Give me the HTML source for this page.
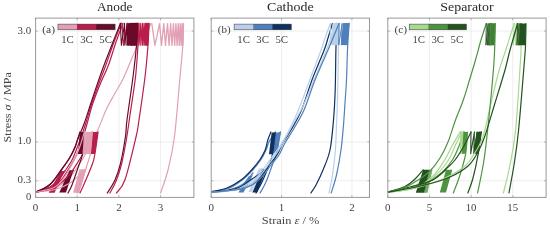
<!DOCTYPE html>
<html><head><meta charset="utf-8"><style>
html,body{margin:0;padding:0;background:#fff;width:550px;height:230px;overflow:hidden}
svg{display:block;will-change:transform}
text{font-family:"Liberation Serif",serif;fill:#444}
.tk{font-size:11px}
.lg{font-size:10.5px}
.tt{font-size:13px;fill:#2a2a2a}
</style></head><body>
<svg width="550" height="230" viewBox="0 0 550 230">
<defs><clipPath id="c0"><rect x="35.6" y="18.1" width="158.3" height="179.30"/></clipPath><clipPath id="c1"><rect x="211.2" y="18.1" width="158.3" height="179.30"/></clipPath><clipPath id="c2"><rect x="387.8" y="18.1" width="158.3" height="179.30"/></clipPath></defs>
<line x1="77.26" y1="18.1" x2="77.26" y2="197.4" stroke="#e8e8e8" stroke-width="0.75"/>
<line x1="118.92" y1="18.1" x2="118.92" y2="197.4" stroke="#e8e8e8" stroke-width="0.75"/>
<line x1="160.57" y1="18.1" x2="160.57" y2="197.4" stroke="#e8e8e8" stroke-width="0.75"/>
<line x1="35.6" y1="180.77" x2="193.90" y2="180.77" stroke="#e8e8e8" stroke-width="0.75"/>
<line x1="35.6" y1="141.95" x2="193.90" y2="141.95" stroke="#e8e8e8" stroke-width="0.75"/>
<line x1="35.6" y1="31.05" x2="193.90" y2="31.05" stroke="#e8e8e8" stroke-width="0.75"/>
<g clip-path="url(#c0)" fill="none" stroke-linejoin="round" stroke-linecap="round">
<path d="M35.60,192.00 C38.83,191.33 49.27,190.50 55.00,188.00 C60.73,185.50 65.50,181.67 70.00,177.00 C74.50,172.33 77.50,167.55 82.00,160.00 C86.50,152.45 93.00,140.03 97.00,131.70 C101.00,123.37 103.17,116.12 106.00,110.00 C108.83,103.88 111.00,100.50 114.00,95.00 C117.00,89.50 120.05,85.33 124.00,77.00 C127.95,68.67 134.03,52.33 137.70,45.00 C141.37,37.67 143.78,36.58 146.00,33.00 C148.22,29.42 150.17,25.08 151.00,23.50" stroke="#e2a0b4" stroke-width="1.2" />
<path d="M151.80,23.6 L154.90,45.4 L159.60,23.6 L161.50,45.4 L163.80,23.6 L165.50,45.4 L167.50,23.6 L169.10,45.4 L170.60,23.6 L172.00,45.4 L173.40,23.6 L174.70,45.4 L175.90,23.6 L177.10,45.4 L178.20,23.6 L179.30,45.4 L180.20,23.6 L181.20,45.4 L182.00,23.6 L182.80,45.4 L183.50,23.6" stroke="#e2a0b4" stroke-width="1.3" />
<path d="M183.50,23.50 C183.38,27.17 183.38,36.58 182.80,45.50 C182.22,54.42 181.40,61.75 180.00,77.00 C178.60,92.25 176.40,121.50 174.40,137.00 C172.40,152.50 170.30,160.67 168.00,170.00 C165.70,179.33 161.83,189.17 160.60,193.00" stroke="#e2a0b4" stroke-width="1.2" />
<path d="M35.60,192.20 C37.00,191.75 41.60,190.37 44.00,189.50 C46.40,188.63 48.33,187.92 50.00,187.00 C51.67,186.08 52.33,185.50 54.00,184.00 C55.67,182.50 58.17,180.17 60.00,178.00 C61.83,175.83 63.00,174.00 65.00,171.00 C67.00,168.00 70.00,163.83 72.00,160.00 C74.00,156.17 75.58,151.50 77.00,148.00 C78.42,144.50 79.08,143.00 80.50,139.00 C81.92,135.00 83.70,129.67 85.50,124.00 C87.30,118.33 89.17,111.50 91.30,105.00 C93.43,98.50 95.87,91.67 98.30,85.00 C100.73,78.33 103.28,72.17 105.90,65.00 C108.52,57.83 111.43,48.95 114.00,42.00 C116.57,35.05 120.08,26.42 121.30,23.30" stroke="#b91d4a" stroke-width="1.2" />
<path d="M35.60,192.40 C38.00,191.75 46.60,189.73 50.00,188.50 C53.40,187.27 54.00,186.58 56.00,185.00 C58.00,183.42 60.00,181.50 62.00,179.00 C64.00,176.50 66.00,173.17 68.00,170.00 C70.00,166.83 72.17,163.50 74.00,160.00 C75.83,156.50 77.58,152.50 79.00,149.00 C80.42,145.50 81.17,143.17 82.50,139.00 C83.83,134.83 85.37,129.67 87.00,124.00 C88.63,118.33 90.17,111.50 92.30,105.00 C94.43,98.50 97.10,91.67 99.80,85.00 C102.50,78.33 105.80,72.17 108.50,65.00 C111.20,57.83 113.58,48.95 116.00,42.00 C118.42,35.05 121.83,26.42 123.00,23.30" stroke="#b91d4a" stroke-width="1.2" />
<path d="M122.00,23.30 L123.53,45.30 L127.17,23.30 L128.11,45.30 L131.03,23.30 L131.62,45.30 L134.11,23.30 L134.47,45.30 L136.68,23.30 L136.87,45.30 L138.87,23.30 L138.94,45.30 L140.80,23.30 L140.77,45.30 L142.51,23.30 L142.40,45.30 L144.04,23.30 L143.87,45.30 L145.44,23.30 L145.22,45.30 L146.72,23.30 L146.45,45.30 L147.90,23.30 L147.60,45.30 L149.00,23.30" stroke="#b91d4a" stroke-width="1.1" />
<polygon points="145.50,23.30 149.00,23.30 148.00,45.30 144.50,45.30" fill="#b91d4a" stroke="none" opacity="1.0"/>
<path d="M149.00,23.30 C148.83,26.97 148.67,36.35 148.00,45.30 C147.33,54.25 146.50,64.55 145.00,77.00 C143.50,89.45 140.50,110.00 139.00,120.00 C137.50,130.00 138.33,127.03 136.00,137.00 C133.67,146.97 128.27,170.47 125.00,179.80 C121.73,189.13 117.83,190.80 116.40,193.00" stroke="#b91d4a" stroke-width="1.2" />
<path d="M139.00,23.30 C138.83,26.92 138.58,36.05 138.00,45.00 C137.42,53.95 136.83,65.33 135.50,77.00 C134.17,88.67 131.45,105.00 130.00,115.00 C128.55,125.00 128.17,129.00 126.80,137.00 C125.43,145.00 123.52,155.83 121.80,163.00 C120.08,170.17 118.47,175.00 116.50,180.00 C114.53,185.00 111.08,190.83 110.00,193.00" stroke="#b91d4a" stroke-width="1.2" />
<path d="M35.60,192.00 C37.00,191.40 41.60,189.68 44.00,188.40 C46.40,187.12 48.17,185.95 50.00,184.30 C51.83,182.65 53.33,180.63 55.00,178.50 C56.67,176.37 58.33,173.82 60.00,171.50 C61.67,169.18 63.33,167.02 65.00,164.60 C66.67,162.18 68.33,159.93 70.00,157.00 C71.67,154.07 73.67,150.08 75.00,147.00 C76.33,143.92 76.50,142.33 78.00,138.50 C79.50,134.67 81.95,129.58 84.00,124.00 C86.05,118.42 88.13,111.50 90.30,105.00 C92.47,98.50 94.70,91.67 97.00,85.00 C99.30,78.33 101.43,72.17 104.10,65.00 C106.77,57.83 110.27,48.95 113.00,42.00 C115.73,35.05 119.25,26.42 120.50,23.30" stroke="#6a0a2a" stroke-width="1.2" />
<path d="M120.30,23.30 L121.40,45.30 L124.53,23.30 L124.88,45.30 L127.09,23.30 L127.11,45.30 L128.92,23.30 L128.77,45.30 L130.36,23.30 L130.09,45.30 L131.53,23.30 L131.18,45.30 L132.53,23.30 L132.12,45.30 L133.40,23.30 L132.94,45.30 L134.17,23.30 L133.67,45.30 L134.85,23.30 L134.33,45.30 L135.47,23.30 L134.93,45.30 L136.04,23.30 L135.48,45.30 L136.56,23.30 L135.98,45.30 L137.05,23.30 L136.45,45.30 L137.50,23.30" stroke="#6a0a2a" stroke-width="1.1" />
<polygon points="127.50,23.30 135.00,23.30 134.00,45.30 126.50,45.30" fill="#6a0a2a" stroke="none" opacity="1.0"/>
<path d="M137.50,23.30 C137.33,26.97 137.25,36.35 136.50,45.30 C135.75,54.25 134.58,64.55 133.00,77.00 C131.42,89.45 128.27,110.00 127.00,120.00 C125.73,130.00 126.48,129.78 125.40,137.00 C124.32,144.22 122.23,156.13 120.50,163.30 C118.77,170.47 117.20,175.05 115.00,180.00 C112.80,184.95 108.58,190.83 107.30,193.00" stroke="#6a0a2a" stroke-width="1.2" />
<path d="M35.60,192.20 C37.67,191.58 44.60,190.03 48.00,188.50 C51.40,186.97 53.83,185.08 56.00,183.00 C58.17,180.92 59.58,178.00 61.00,176.00 C62.42,174.00 63.92,171.83 64.50,171.00" stroke="#b91d4a" stroke-width="1.2" />
<polygon points="48.70,192.80 54.60,192.80 64.50,171.00 60.50,171.00" fill="#b91d4a" stroke="none" opacity="1.0"/>
<path d="M35.60,192.10 C38.33,191.50 47.43,190.35 52.00,188.50 C56.57,186.65 59.42,184.03 63.00,181.00 C66.58,177.97 71.75,172.08 73.50,170.30" stroke="#6a0a2a" stroke-width="1.2" />
<polygon points="59.30,192.50 66.00,192.50 73.50,170.30 69.50,170.30" fill="#6a0a2a" stroke="none" opacity="1.0"/>
<path d="M35.60,192.20 C38.83,191.75 49.27,191.03 55.00,189.50 C60.73,187.97 64.93,186.32 70.00,183.00 C75.07,179.68 82.83,171.83 85.40,169.60" stroke="#e2a0b4" stroke-width="1.2" />
<polygon points="73.00,192.50 79.20,192.50 82.00,182.00 85.40,169.60 79.90,169.60 76.00,182.00" fill="#e2a0b4" stroke="none" opacity="0.85"/>
<path d="M79.90,169.60 L74.40,192.50 L81.91,169.60 L76.04,192.50 L83.17,169.60 L77.12,192.50 L84.08,169.60 L77.94,192.50 L84.80,169.60 L78.60,192.50 L85.40,169.60" stroke="#e2a0b4" stroke-width="1.0" />
<path d="M35.60,192.30 C38.33,191.67 47.60,190.22 52.00,188.50 C56.40,186.78 59.00,184.42 62.00,182.00 C65.00,179.58 67.33,177.33 70.00,174.00 C72.67,170.67 75.50,166.00 78.00,162.00 C80.50,158.00 82.62,155.02 85.00,150.00 C87.38,144.98 91.08,134.92 92.30,131.90" stroke="#b91d4a" stroke-width="1.2" />
<polygon points="92.30,131.90 98.10,131.90 94.90,154.00 90.30,154.00" fill="#b91d4a" stroke="none" opacity="1.0"/>
<path d="M98.10,131.90 C97.57,135.58 95.85,148.65 94.90,154.00 C93.95,159.35 94.05,159.33 92.40,164.00 C90.75,168.67 87.07,177.17 85.00,182.00 C82.93,186.83 80.83,191.17 80.00,193.00" stroke="#b91d4a" stroke-width="1.2" />
<path d="M35.60,192.00 C37.00,191.43 41.60,189.80 44.00,188.60 C46.40,187.40 48.17,186.40 50.00,184.80 C51.83,183.20 53.33,181.13 55.00,179.00 C56.67,176.87 58.33,174.33 60.00,172.00 C61.67,169.67 63.33,167.42 65.00,165.00 C66.67,162.58 68.33,160.42 70.00,157.50 C71.67,154.58 73.35,151.77 75.00,147.50 C76.65,143.23 79.08,134.50 79.90,131.90" stroke="#6a0a2a" stroke-width="1.2" />
<polygon points="79.90,131.90 84.40,131.90 82.50,154.00 77.90,154.00" fill="#6a0a2a" stroke="none" opacity="1.0"/>
<path d="M84.40,131.90 C84.08,135.58 83.47,148.32 82.50,154.00 C81.53,159.68 80.35,160.83 78.60,166.00 C76.85,171.17 73.77,180.50 72.00,185.00 C70.23,189.50 68.67,191.67 68.00,193.00" stroke="#6a0a2a" stroke-width="1.2" />
<path d="M35.60,192.30 C38.50,191.58 48.93,189.55 53.00,188.00 C57.07,186.45 57.83,185.17 60.00,183.00 C62.17,180.83 63.83,178.50 66.00,175.00 C68.17,171.50 70.78,166.50 73.00,162.00 C75.22,157.50 77.40,153.02 79.30,148.00 C81.20,142.98 83.55,134.58 84.40,131.90" stroke="#e2a0b4" stroke-width="1.2" />
<polygon points="84.40,131.90 92.30,131.90 90.30,154.00 82.50,154.00" fill="#e2a0b4" stroke="none" opacity="0.9"/>
<path d="M84.40,131.90 L83.84,154.00 L87.29,131.90 L86.19,154.00 L89.09,131.90 L87.75,154.00 L90.41,131.90 L88.93,154.00 L91.44,131.90 L89.87,154.00 L92.30,131.90" stroke="#e2a0b4" stroke-width="0.9" />
<path d="M92.30,131.90 C91.97,135.58 91.18,148.48 90.30,154.00 C89.42,159.52 88.55,159.83 87.00,165.00 C85.45,170.17 82.67,180.33 81.00,185.00 C79.33,189.67 77.67,191.67 77.00,193.00" stroke="#e2a0b4" stroke-width="1.2" />
</g>
<rect x="35.6" y="18.1" width="158.3" height="179.30" fill="none" stroke="#9a9a9a" stroke-width="1"/>
<line x1="35.60" y1="197.4" x2="35.60" y2="195.4" stroke="#9a9a9a" stroke-width="0.8"/>
<line x1="35.60" y1="18.1" x2="35.60" y2="20.1" stroke="#9a9a9a" stroke-width="0.8"/>
<text x="35.60" y="211.2" text-anchor="middle" class="tk">0</text>
<line x1="77.26" y1="197.4" x2="77.26" y2="195.4" stroke="#9a9a9a" stroke-width="0.8"/>
<line x1="77.26" y1="18.1" x2="77.26" y2="20.1" stroke="#9a9a9a" stroke-width="0.8"/>
<text x="77.26" y="211.2" text-anchor="middle" class="tk">1</text>
<line x1="118.92" y1="197.4" x2="118.92" y2="195.4" stroke="#9a9a9a" stroke-width="0.8"/>
<line x1="118.92" y1="18.1" x2="118.92" y2="20.1" stroke="#9a9a9a" stroke-width="0.8"/>
<text x="118.92" y="211.2" text-anchor="middle" class="tk">2</text>
<line x1="160.57" y1="197.4" x2="160.57" y2="195.4" stroke="#9a9a9a" stroke-width="0.8"/>
<line x1="160.57" y1="18.1" x2="160.57" y2="20.1" stroke="#9a9a9a" stroke-width="0.8"/>
<text x="160.57" y="211.2" text-anchor="middle" class="tk">3</text>
<line x1="35.6" y1="197.40" x2="37.6" y2="197.40" stroke="#9a9a9a" stroke-width="0.8"/>
<line x1="193.90" y1="197.40" x2="191.90" y2="197.40" stroke="#9a9a9a" stroke-width="0.8"/>
<line x1="35.6" y1="180.77" x2="37.6" y2="180.77" stroke="#9a9a9a" stroke-width="0.8"/>
<line x1="193.90" y1="180.77" x2="191.90" y2="180.77" stroke="#9a9a9a" stroke-width="0.8"/>
<line x1="35.6" y1="141.95" x2="37.6" y2="141.95" stroke="#9a9a9a" stroke-width="0.8"/>
<line x1="193.90" y1="141.95" x2="191.90" y2="141.95" stroke="#9a9a9a" stroke-width="0.8"/>
<line x1="35.6" y1="31.05" x2="37.6" y2="31.05" stroke="#9a9a9a" stroke-width="0.8"/>
<line x1="193.90" y1="31.05" x2="191.90" y2="31.05" stroke="#9a9a9a" stroke-width="0.8"/>
<rect x="57.95" y="24.1" width="19.05" height="5.7" fill="#e2a0b4"/>
<rect x="77.00" y="24.1" width="19.05" height="5.7" fill="#b91d4a"/>
<rect x="96.05" y="24.1" width="19.05" height="5.7" fill="#6a0a2a"/>
<rect x="57.95" y="24.1" width="57.15" height="5.7" fill="none" stroke="#333" stroke-width="0.5"/>
<text x="61.18" y="42.8" class="lg" textLength="12.6" lengthAdjust="spacingAndGlyphs">1C</text>
<text x="80.23" y="42.8" class="lg" textLength="12.6" lengthAdjust="spacingAndGlyphs">3C</text>
<text x="99.28" y="42.8" class="lg" textLength="12.6" lengthAdjust="spacingAndGlyphs">5C</text>
<text x="42.20" y="32.9" class="lg" textLength="12.8" lengthAdjust="spacingAndGlyphs">(a)</text>
<text x="97.00" y="10.8" class="tt" textLength="35.5" lengthAdjust="spacingAndGlyphs">Anode</text>
<line x1="281.56" y1="18.1" x2="281.56" y2="197.4" stroke="#e8e8e8" stroke-width="0.75"/>
<line x1="351.91" y1="18.1" x2="351.91" y2="197.4" stroke="#e8e8e8" stroke-width="0.75"/>
<line x1="211.2" y1="180.77" x2="369.50" y2="180.77" stroke="#e8e8e8" stroke-width="0.75"/>
<line x1="211.2" y1="141.95" x2="369.50" y2="141.95" stroke="#e8e8e8" stroke-width="0.75"/>
<line x1="211.2" y1="31.05" x2="369.50" y2="31.05" stroke="#e8e8e8" stroke-width="0.75"/>
<g clip-path="url(#c1)" fill="none" stroke-linejoin="round" stroke-linecap="round">
<path d="M211.20,192.30 C214.33,191.83 224.70,190.88 230.00,189.50 C235.30,188.12 239.17,186.75 243.00,184.00 C246.83,181.25 251.33,174.83 253.00,173.00" stroke="#4f80bb" stroke-width="1.2" />
<polygon points="238.30,192.50 243.50,192.50 253.00,175.00 248.50,176.50" fill="#4f80bb" stroke="none" opacity="1.0"/>
<path d="M211.20,192.30 C215.00,191.83 227.53,191.22 234.00,189.50 C240.47,187.78 245.33,185.50 250.00,182.00 C254.67,178.50 260.00,170.75 262.00,168.50" stroke="#b9d0e8" stroke-width="1.2" />
<polygon points="248.50,192.00 252.00,192.00 262.00,168.50 259.00,168.50" fill="#b9d0e8" stroke="none" opacity="0.9"/>
<path d="M211.20,192.00 C215.33,191.42 229.20,190.67 236.00,188.50 C242.80,186.33 246.93,182.25 252.00,179.00 C257.07,175.75 264.00,170.67 266.40,169.00" stroke="#10305e" stroke-width="1.2" />
<polygon points="252.40,192.50 257.30,192.50 266.40,169.00 262.30,169.00" fill="#10305e" stroke="none" opacity="1.0"/>
<path d="M211.20,192.00 C214.17,191.42 223.78,190.50 229.00,188.50 C234.22,186.50 238.50,183.08 242.50,180.00 C246.50,176.92 249.92,173.33 253.00,170.00 C256.08,166.67 258.83,163.33 261.00,160.00 C263.17,156.67 264.50,153.33 266.00,150.00 C267.50,146.67 268.47,143.00 270.00,140.00 C271.53,137.00 274.33,133.33 275.20,132.00" stroke="#b9d0e8" stroke-width="1.2" />
<path d="M211.20,192.20 C214.00,191.58 222.87,190.53 228.00,188.50 C233.13,186.47 237.92,183.08 242.00,180.00 C246.08,176.92 249.42,173.33 252.50,170.00 C255.58,166.67 258.25,163.33 260.50,160.00 C262.75,156.67 264.42,153.33 266.00,150.00 C267.58,146.67 267.60,143.00 270.00,140.00 C272.40,137.00 278.67,133.33 280.40,132.00" stroke="#4f80bb" stroke-width="1.2" />
<polygon points="275.60,132.40 280.80,132.40 276.80,152.00 272.50,154.00" fill="#4f80bb" stroke="none" opacity="1.0"/>
<path d="M280.40,132.00 C279.83,135.33 278.23,146.83 277.00,152.00 C275.77,157.17 274.83,158.00 273.00,163.00 C271.17,168.00 268.17,177.00 266.00,182.00 C263.83,187.00 261.00,191.17 260.00,193.00" stroke="#4f80bb" stroke-width="1.2" />
<path d="M211.20,191.80 C213.83,191.17 221.92,190.05 227.00,188.00 C232.08,185.95 237.53,182.58 241.70,179.50 C245.87,176.42 248.95,172.83 252.00,169.50 C255.05,166.17 257.80,162.75 260.00,159.50 C262.20,156.25 263.90,153.25 265.20,150.00 C266.50,146.75 266.85,143.00 267.80,140.00 C268.75,137.00 270.38,133.33 270.90,132.00" stroke="#10305e" stroke-width="1.2" />
<polygon points="271.60,132.40 275.60,132.40 272.50,154.20 269.00,154.20" fill="#10305e" stroke="none" opacity="1.0"/>
<path d="M275.20,132.00 C274.77,135.62 273.63,148.20 272.60,153.70 C271.57,159.20 270.77,160.28 269.00,165.00 C267.23,169.72 264.17,177.33 262.00,182.00 C259.83,186.67 257.00,191.17 256.00,193.00" stroke="#10305e" stroke-width="1.2" />
<path d="M211.20,192.60 C215.33,192.13 229.53,191.23 236.00,189.80 C242.47,188.37 246.33,186.30 250.00,184.00 C253.67,181.70 255.67,178.67 258.00,176.00 C260.33,173.33 261.67,171.17 264.00,168.00 C266.33,164.83 269.33,160.67 272.00,157.00 C274.67,153.33 277.50,149.83 280.00,146.00 C282.50,142.17 284.67,138.33 287.00,134.00 C289.33,129.67 291.83,124.67 294.00,120.00 C296.17,115.33 297.50,112.33 300.00,106.00 C302.50,99.67 305.48,91.33 309.00,82.00 C312.52,72.67 318.43,57.33 321.10,50.00 C323.77,42.67 323.47,42.42 325.00,38.00 C326.53,33.58 329.42,25.92 330.30,23.50" stroke="#b9d0e8" stroke-width="1.2" />
<path d="M211.20,192.00 C215.50,191.58 230.37,190.67 237.00,189.50 C243.63,188.33 247.17,187.08 251.00,185.00 C254.83,182.92 257.00,180.33 260.00,177.00 C263.00,173.67 266.17,168.67 269.00,165.00 C271.83,161.33 274.67,158.67 277.00,155.00 C279.33,151.33 280.67,147.17 283.00,143.00 C285.33,138.83 287.92,135.50 291.00,130.00 C294.08,124.50 298.00,118.33 301.50,110.00 C305.00,101.67 308.22,90.00 312.00,80.00 C315.78,70.00 321.53,57.00 324.20,50.00 C326.87,43.00 326.63,42.42 328.00,38.00 C329.37,33.58 331.67,25.92 332.40,23.50" stroke="#10305e" stroke-width="1.2" />
<path d="M336.70,23.30 C336.57,27.75 336.15,38.88 335.90,50.00 C335.65,61.12 335.60,78.33 335.20,90.00 C334.80,101.67 334.37,110.00 333.50,120.00 C332.63,130.00 331.75,141.67 330.00,150.00 C328.25,158.33 325.33,164.17 323.00,170.00 C320.67,175.83 318.02,181.17 316.00,185.00 C313.98,188.83 311.75,191.67 310.90,193.00" stroke="#10305e" stroke-width="1.2" />
<polygon points="333.00,23.30 339.40,23.30 338.00,45.10 331.00,45.10" fill="#b9d0e8" stroke="none" opacity="1.0"/>
<path d="M330.30,23.30 L330.32,45.10 L333.34,23.30 L332.79,45.10 L335.25,23.30 L334.44,45.10 L336.64,23.30 L335.68,45.10 L337.73,23.30 L336.68,45.10 L338.63,23.30 L337.52,45.10 L339.40,23.30" stroke="#b9d0e8" stroke-width="1.0" />
<path d="M339.40,23.30 C339.25,26.92 338.73,36.05 338.50,45.00 C338.27,53.95 338.17,67.83 338.00,77.00 C337.83,86.17 337.75,92.00 337.50,100.00 C337.25,108.00 336.85,116.67 336.50,125.00 C336.15,133.33 336.07,141.67 335.40,150.00 C334.73,158.33 333.57,167.83 332.50,175.00 C331.43,182.17 329.58,190.00 329.00,193.00" stroke="#b9d0e8" stroke-width="1.2" />
<path d="M211.20,192.30 C215.67,191.83 231.20,190.88 238.00,189.50 C244.80,188.12 248.33,186.25 252.00,184.00 C255.67,181.75 257.67,178.67 260.00,176.00 C262.33,173.33 263.83,171.00 266.00,168.00 C268.17,165.00 270.67,161.33 273.00,158.00 C275.33,154.67 277.83,151.50 280.00,148.00 C282.17,144.50 284.00,140.67 286.00,137.00 C288.00,133.33 289.17,131.17 292.00,126.00 C294.83,120.83 299.33,113.67 303.00,106.00 C306.67,98.33 310.08,89.33 314.00,80.00 C317.92,70.67 323.67,57.00 326.50,50.00 C329.33,43.00 329.42,42.42 331.00,38.00 C332.58,33.58 335.17,25.92 336.00,23.50" stroke="#b9d0e8" stroke-width="1.2" />
<path d="M211.20,192.30 C215.67,191.83 231.20,190.72 238.00,189.50 C244.80,188.28 247.90,187.25 252.00,185.00 C256.10,182.75 259.43,179.33 262.60,176.00 C265.77,172.67 268.27,168.50 271.00,165.00 C273.73,161.50 276.67,158.67 279.00,155.00 C281.33,151.33 282.67,147.17 285.00,143.00 C287.33,138.83 289.83,135.50 293.00,130.00 C296.17,124.50 300.33,118.33 304.00,110.00 C307.67,101.67 311.00,90.00 315.00,80.00 C319.00,70.00 325.00,57.00 328.00,50.00 C331.00,43.00 331.17,42.42 333.00,38.00 C334.83,33.58 338.00,25.92 339.00,23.50" stroke="#4f80bb" stroke-width="1.2" />
<polygon points="343.00,23.30 349.10,23.30 347.00,45.10 341.00,45.10" fill="#4f80bb" stroke="none" opacity="1.0"/>
<path d="M339.00,23.30 L338.77,45.10 L342.15,23.30 L341.33,45.10 L344.11,23.30 L343.03,45.10 L345.55,23.30 L344.32,45.10 L346.68,23.30 L345.35,45.10 L347.61,23.30 L346.21,45.10 L348.41,23.30 L346.95,45.10 L349.10,23.30" stroke="#4f80bb" stroke-width="1.0" />
<path d="M349.10,23.30 C348.83,27.75 347.93,40.55 347.50,50.00 C347.07,59.45 346.88,71.67 346.50,80.00 C346.12,88.33 345.70,92.50 345.20,100.00 C344.70,107.50 344.20,116.67 343.50,125.00 C342.80,133.33 342.17,141.67 341.00,150.00 C339.83,158.33 338.13,167.83 336.50,175.00 C334.87,182.17 332.08,190.00 331.20,193.00" stroke="#4f80bb" stroke-width="1.2" />
</g>
<rect x="211.2" y="18.1" width="158.3" height="179.30" fill="none" stroke="#9a9a9a" stroke-width="1"/>
<line x1="211.20" y1="197.4" x2="211.20" y2="195.4" stroke="#9a9a9a" stroke-width="0.8"/>
<line x1="211.20" y1="18.1" x2="211.20" y2="20.1" stroke="#9a9a9a" stroke-width="0.8"/>
<text x="211.20" y="211.2" text-anchor="middle" class="tk">0</text>
<line x1="281.56" y1="197.4" x2="281.56" y2="195.4" stroke="#9a9a9a" stroke-width="0.8"/>
<line x1="281.56" y1="18.1" x2="281.56" y2="20.1" stroke="#9a9a9a" stroke-width="0.8"/>
<text x="281.56" y="211.2" text-anchor="middle" class="tk">1</text>
<line x1="351.91" y1="197.4" x2="351.91" y2="195.4" stroke="#9a9a9a" stroke-width="0.8"/>
<line x1="351.91" y1="18.1" x2="351.91" y2="20.1" stroke="#9a9a9a" stroke-width="0.8"/>
<text x="351.91" y="211.2" text-anchor="middle" class="tk">2</text>
<line x1="211.2" y1="197.40" x2="213.2" y2="197.40" stroke="#9a9a9a" stroke-width="0.8"/>
<line x1="369.50" y1="197.40" x2="367.50" y2="197.40" stroke="#9a9a9a" stroke-width="0.8"/>
<line x1="211.2" y1="180.77" x2="213.2" y2="180.77" stroke="#9a9a9a" stroke-width="0.8"/>
<line x1="369.50" y1="180.77" x2="367.50" y2="180.77" stroke="#9a9a9a" stroke-width="0.8"/>
<line x1="211.2" y1="141.95" x2="213.2" y2="141.95" stroke="#9a9a9a" stroke-width="0.8"/>
<line x1="369.50" y1="141.95" x2="367.50" y2="141.95" stroke="#9a9a9a" stroke-width="0.8"/>
<line x1="211.2" y1="31.05" x2="213.2" y2="31.05" stroke="#9a9a9a" stroke-width="0.8"/>
<line x1="369.50" y1="31.05" x2="367.50" y2="31.05" stroke="#9a9a9a" stroke-width="0.8"/>
<rect x="234.10" y="24.1" width="19.05" height="5.7" fill="#b9d0e8"/>
<rect x="253.15" y="24.1" width="19.05" height="5.7" fill="#4f80bb"/>
<rect x="272.20" y="24.1" width="19.05" height="5.7" fill="#10305e"/>
<rect x="234.10" y="24.1" width="57.15" height="5.7" fill="none" stroke="#333" stroke-width="0.5"/>
<text x="237.32" y="42.8" class="lg" textLength="12.6" lengthAdjust="spacingAndGlyphs">1C</text>
<text x="256.38" y="42.8" class="lg" textLength="12.6" lengthAdjust="spacingAndGlyphs">3C</text>
<text x="275.43" y="42.8" class="lg" textLength="12.6" lengthAdjust="spacingAndGlyphs">5C</text>
<text x="217.80" y="32.9" class="lg" textLength="12.8" lengthAdjust="spacingAndGlyphs">(b)</text>
<text x="267.10" y="10.8" class="tt" textLength="46.5" lengthAdjust="spacingAndGlyphs">Cathode</text>
<line x1="429.46" y1="18.1" x2="429.46" y2="197.4" stroke="#e8e8e8" stroke-width="0.75"/>
<line x1="471.12" y1="18.1" x2="471.12" y2="197.4" stroke="#e8e8e8" stroke-width="0.75"/>
<line x1="512.77" y1="18.1" x2="512.77" y2="197.4" stroke="#e8e8e8" stroke-width="0.75"/>
<line x1="387.8" y1="180.77" x2="546.10" y2="180.77" stroke="#e8e8e8" stroke-width="0.75"/>
<line x1="387.8" y1="141.95" x2="546.10" y2="141.95" stroke="#e8e8e8" stroke-width="0.75"/>
<line x1="387.8" y1="31.05" x2="546.10" y2="31.05" stroke="#e8e8e8" stroke-width="0.75"/>
<g clip-path="url(#c2)" fill="none" stroke-linejoin="round" stroke-linecap="round">
<path d="M387.80,192.20 C391.50,191.67 402.63,191.03 410.00,189.00 C417.37,186.97 426.00,183.17 432.00,180.00 C438.00,176.83 443.67,171.67 446.00,170.00" stroke="#4d9340" stroke-width="1.2" />
<polygon points="439.80,192.50 446.00,192.50 452.30,169.80 446.00,169.80" fill="#4d9340" stroke="none" opacity="1.0"/>
<path d="M387.80,192.30 C391.17,191.83 402.97,190.88 408.00,189.50 C413.03,188.12 414.45,187.17 418.00,184.00 C421.55,180.83 427.42,172.75 429.30,170.50" stroke="#a8d98f" stroke-width="1.2" />
<polygon points="424.00,192.70 427.50,192.70 432.50,169.80 429.00,169.80" fill="#4d9340" stroke="none" opacity="0.8"/>
<path d="M387.80,192.00 C390.67,191.08 400.47,188.67 405.00,186.50 C409.53,184.33 411.98,181.78 415.00,179.00 C418.02,176.22 421.75,171.33 423.10,169.80" stroke="#23511f" stroke-width="1.2" />
<polygon points="415.80,192.70 424.20,192.70 429.40,169.80 423.10,169.80" fill="#23511f" stroke="none" opacity="1.0"/>
<path d="M387.80,192.30 C392.33,191.58 407.47,190.72 415.00,188.00 C422.53,185.28 428.07,180.67 433.00,176.00 C437.93,171.33 441.43,165.00 444.60,160.00 C447.77,155.00 449.37,150.75 452.00,146.00 C454.63,141.25 459.00,133.92 460.40,131.50" stroke="#a8d98f" stroke-width="1.2" />
<path d="M387.80,192.20 C392.83,191.33 409.97,189.87 418.00,187.00 C426.03,184.13 430.92,179.50 436.00,175.00 C441.08,170.50 445.33,164.83 448.50,160.00 C451.67,155.17 452.75,150.75 455.00,146.00 C457.25,141.25 460.83,133.92 462.00,131.50" stroke="#a8d98f" stroke-width="1.2" />
<path d="M387.80,192.00 C393.17,191.00 411.30,189.00 420.00,186.00 C428.70,183.00 434.60,178.33 440.00,174.00 C445.40,169.67 449.23,164.67 452.40,160.00 C455.57,155.33 457.07,150.75 459.00,146.00 C460.93,141.25 463.17,133.92 464.00,131.50" stroke="#4d9340" stroke-width="1.2" />
<path d="M460.40,132.00 L460.40,153.70 L461.99,132.00 L461.76,153.70 L463.12,132.00 L462.76,153.70 L464.00,132.00" stroke="#a8d98f" stroke-width="1.0" />
<polygon points="463.50,132.00 467.40,132.00 465.70,153.70 462.00,153.70" fill="#4d9340" stroke="none" opacity="1.0"/>
<path d="M467.40,132.00 C467.12,135.62 466.93,146.53 465.70,153.70 C464.47,160.87 462.07,168.45 460.00,175.00 C457.93,181.55 454.42,190.00 453.30,193.00" stroke="#4d9340" stroke-width="1.2" />
<path d="M387.80,192.10 C391.50,191.25 402.50,189.02 410.00,187.00 C417.50,184.98 426.63,183.17 432.80,180.00 C438.97,176.83 443.30,171.33 447.00,168.00 C450.70,164.67 452.17,163.67 455.00,160.00 C457.83,156.33 461.33,150.67 464.00,146.00 C466.67,141.33 469.83,134.33 471.00,132.00" stroke="#23511f" stroke-width="1.2" />
<polygon points="476.50,131.90 481.30,131.90 478.50,153.70 474.00,153.70" fill="#23511f" stroke="none" opacity="1.0"/>
<path d="M471.00,131.90 L470.71,153.70 L474.43,131.90 L473.78,153.70 L477.14,131.90 L476.26,153.70 L479.38,131.90 L478.34,153.70 L481.30,131.90" stroke="#23511f" stroke-width="1.1" />
<path d="M481.10,131.70 C480.58,135.55 479.35,147.08 478.00,154.80 C476.65,162.52 474.68,171.63 473.00,178.00 C471.32,184.37 468.75,190.50 467.90,193.00" stroke="#23511f" stroke-width="1.2" />
<path d="M387.80,192.30 C392.83,191.50 408.47,189.88 418.00,187.50 C427.53,185.12 437.17,181.58 445.00,178.00 C452.83,174.42 459.83,170.50 465.00,166.00 C470.17,161.50 472.97,156.00 476.00,151.00 C479.03,146.00 480.70,144.00 483.20,136.00 C485.70,128.00 488.33,114.00 491.00,103.00 C493.67,92.00 496.73,78.83 499.20,70.00 C501.67,61.17 503.32,57.75 505.80,50.00 C508.28,42.25 512.72,27.92 514.10,23.50" stroke="#a8d98f" stroke-width="1.2" />
<path d="M514.10,23.50 L513.25,45.20 L516.40,23.50 L515.55,45.20 L518.70,23.50 L517.85,45.20 L521.00,23.50" stroke="#a8d98f" stroke-width="1.0" />
<polygon points="516.00,23.50 521.00,23.50 520.50,45.20 515.00,45.20" fill="#a8d98f" stroke="none" opacity="0.9"/>
<path d="M521.00,23.50 C521.00,27.08 521.08,38.92 521.00,45.00 C520.92,51.08 521.40,45.83 520.50,60.00 C519.60,74.17 517.35,112.50 515.60,130.00 C513.85,147.50 512.03,154.50 510.00,165.00 C507.97,175.50 504.50,188.33 503.40,193.00" stroke="#a8d98f" stroke-width="1.2" />
<path d="M387.80,192.00 C390.67,191.25 399.97,189.50 405.00,187.50 C410.03,185.50 413.83,182.75 418.00,180.00 C422.17,177.25 426.33,174.67 430.00,171.00 C433.67,167.33 437.00,162.83 440.00,158.00 C443.00,153.17 445.42,148.33 448.00,142.00 C450.58,135.67 452.95,127.00 455.50,120.00 C458.05,113.00 460.97,106.67 463.30,100.00 C465.63,93.33 467.47,86.67 469.50,80.00 C471.53,73.33 473.58,66.67 475.50,60.00 C477.42,53.33 479.20,46.08 481.00,40.00 C482.80,33.92 485.42,26.25 486.30,23.50" stroke="#4d9340" stroke-width="1.2" />
<path d="M486.30,23.50 L485.93,45.20 L488.14,23.50 L487.53,45.20 L489.45,23.50 L488.71,45.20 L490.47,23.50 L489.64,45.20 L491.30,23.50 L490.41,45.20 L492.00,23.50" stroke="#23511f" stroke-width="0.9" />
<polygon points="490.00,23.50 495.30,23.50 494.80,45.20 489.00,45.20" fill="#4d9340" stroke="none" opacity="1.0"/>
<path d="M489.50,23.50 L489.46,45.20 L491.64,23.50 L491.32,45.20 L493.16,23.50 L492.69,45.20 L494.34,23.50 L493.77,45.20 L495.30,23.50" stroke="#3f7a35" stroke-width="0.7" />
<path d="M495.30,23.50 C495.22,27.08 495.12,37.25 494.80,45.00 C494.48,52.75 494.42,57.50 493.40,70.00 C492.38,82.50 490.27,105.00 488.70,120.00 C487.13,135.00 485.85,147.83 484.00,160.00 C482.15,172.17 478.67,187.50 477.60,193.00" stroke="#4d9340" stroke-width="1.2" />
<path d="M387.80,192.20 C394.00,191.00 414.63,187.53 425.00,185.00 C435.37,182.47 442.83,180.17 450.00,177.00 C457.17,173.83 463.33,170.17 468.00,166.00 C472.67,161.83 475.18,157.00 478.00,152.00 C480.82,147.00 482.07,144.17 484.90,136.00 C487.73,127.83 491.65,114.00 495.00,103.00 C498.35,92.00 502.50,78.83 505.00,70.00 C507.50,61.17 507.90,57.75 510.00,50.00 C512.10,42.25 516.33,27.92 517.60,23.50" stroke="#23511f" stroke-width="1.2" />
<polygon points="520.00,23.50 526.00,23.50 525.50,45.20 519.00,45.20" fill="#23511f" stroke="none" opacity="1.0"/>
<path d="M517.60,23.50 L516.95,45.20 L519.30,23.50 L518.65,45.20 L521.00,23.50" stroke="#23511f" stroke-width="0.9" />
<path d="M526.00,23.50 C525.92,27.08 525.75,38.92 525.50,45.00 C525.25,51.08 525.65,45.83 524.50,60.00 C523.35,74.17 520.35,112.50 518.60,130.00 C516.85,147.50 515.62,154.50 514.00,165.00 C512.38,175.50 509.75,188.33 508.90,193.00" stroke="#23511f" stroke-width="1.2" />
</g>
<rect x="387.8" y="18.1" width="158.3" height="179.30" fill="none" stroke="#9a9a9a" stroke-width="1"/>
<line x1="387.80" y1="197.4" x2="387.80" y2="195.4" stroke="#9a9a9a" stroke-width="0.8"/>
<line x1="387.80" y1="18.1" x2="387.80" y2="20.1" stroke="#9a9a9a" stroke-width="0.8"/>
<text x="387.80" y="211.2" text-anchor="middle" class="tk">0</text>
<line x1="429.46" y1="197.4" x2="429.46" y2="195.4" stroke="#9a9a9a" stroke-width="0.8"/>
<line x1="429.46" y1="18.1" x2="429.46" y2="20.1" stroke="#9a9a9a" stroke-width="0.8"/>
<text x="429.46" y="211.2" text-anchor="middle" class="tk">5</text>
<line x1="471.12" y1="197.4" x2="471.12" y2="195.4" stroke="#9a9a9a" stroke-width="0.8"/>
<line x1="471.12" y1="18.1" x2="471.12" y2="20.1" stroke="#9a9a9a" stroke-width="0.8"/>
<text x="465.72" y="211.2" class="tk" textLength="10.8" lengthAdjust="spacingAndGlyphs">10</text>
<line x1="512.77" y1="197.4" x2="512.77" y2="195.4" stroke="#9a9a9a" stroke-width="0.8"/>
<line x1="512.77" y1="18.1" x2="512.77" y2="20.1" stroke="#9a9a9a" stroke-width="0.8"/>
<text x="507.37" y="211.2" class="tk" textLength="10.8" lengthAdjust="spacingAndGlyphs">15</text>
<line x1="387.8" y1="197.40" x2="389.8" y2="197.40" stroke="#9a9a9a" stroke-width="0.8"/>
<line x1="546.10" y1="197.40" x2="544.10" y2="197.40" stroke="#9a9a9a" stroke-width="0.8"/>
<line x1="387.8" y1="180.77" x2="389.8" y2="180.77" stroke="#9a9a9a" stroke-width="0.8"/>
<line x1="546.10" y1="180.77" x2="544.10" y2="180.77" stroke="#9a9a9a" stroke-width="0.8"/>
<line x1="387.8" y1="141.95" x2="389.8" y2="141.95" stroke="#9a9a9a" stroke-width="0.8"/>
<line x1="546.10" y1="141.95" x2="544.10" y2="141.95" stroke="#9a9a9a" stroke-width="0.8"/>
<line x1="387.8" y1="31.05" x2="389.8" y2="31.05" stroke="#9a9a9a" stroke-width="0.8"/>
<line x1="546.10" y1="31.05" x2="544.10" y2="31.05" stroke="#9a9a9a" stroke-width="0.8"/>
<rect x="409.20" y="24.1" width="19.05" height="5.7" fill="#a8d98f"/>
<rect x="428.25" y="24.1" width="19.05" height="5.7" fill="#4d9340"/>
<rect x="447.30" y="24.1" width="19.05" height="5.7" fill="#23511f"/>
<rect x="409.20" y="24.1" width="57.15" height="5.7" fill="none" stroke="#333" stroke-width="0.5"/>
<text x="412.42" y="42.8" class="lg" textLength="12.6" lengthAdjust="spacingAndGlyphs">1C</text>
<text x="431.47" y="42.8" class="lg" textLength="12.6" lengthAdjust="spacingAndGlyphs">3C</text>
<text x="450.52" y="42.8" class="lg" textLength="12.6" lengthAdjust="spacingAndGlyphs">5C</text>
<text x="394.40" y="32.9" class="lg" textLength="12.8" lengthAdjust="spacingAndGlyphs">(c)</text>
<text x="440.35" y="10.8" class="tt" textLength="53.2" lengthAdjust="spacingAndGlyphs">Separator</text>
<text x="25.90" y="199.90" class="tk" textLength="5.3" lengthAdjust="spacingAndGlyphs">0</text>
<text x="17.60" y="183.27" class="tk" textLength="13.6" lengthAdjust="spacingAndGlyphs">0.3</text>
<text x="17.60" y="144.45" class="tk" textLength="13.6" lengthAdjust="spacingAndGlyphs">1.0</text>
<text x="17.60" y="33.55" class="tk" textLength="13.6" lengthAdjust="spacingAndGlyphs">3.0</text>
<text x="261.8" y="224.2" class="tk" textLength="57.6" lengthAdjust="spacingAndGlyphs">Strain <tspan font-style="italic">ε</tspan> / %</text>
<text transform="translate(10.8,142.4) rotate(-90)" class="tk" textLength="70.4" lengthAdjust="spacingAndGlyphs">Stress <tspan font-style="italic">σ</tspan> / MPa</text>
</svg></body></html>
